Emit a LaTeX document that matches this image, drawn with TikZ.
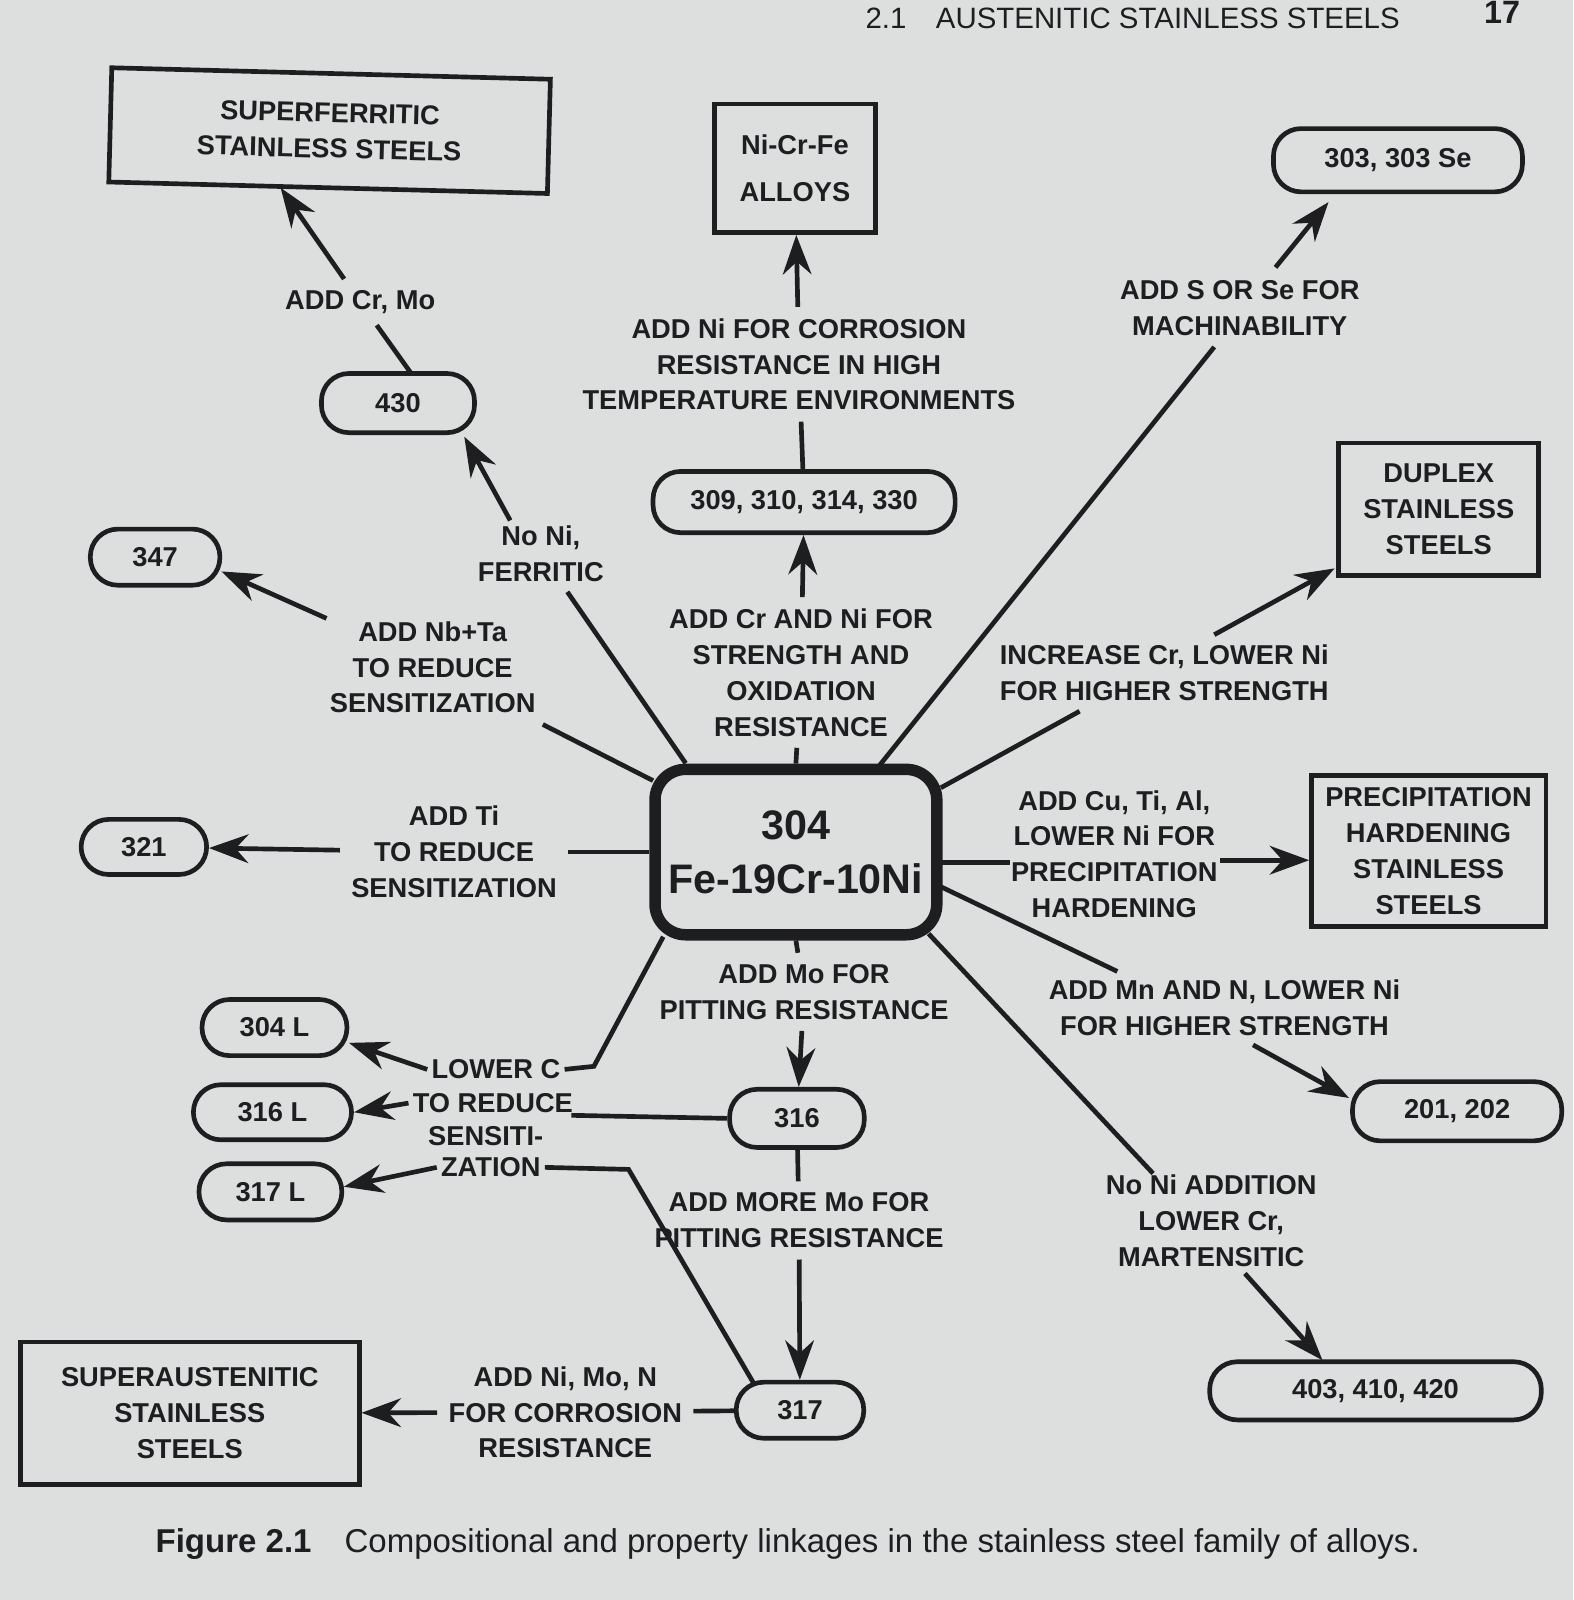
\documentclass[tikz,border=0pt]{standalone}
\usepackage{fontspec}
\setmainfont{Liberation Sans}
\usetikzlibrary{arrows.meta}
\definecolor{bg}{RGB}{221,223,223}
\definecolor{ink}{RGB}{30,30,32}
\tikzset{
  pill/.style 2 args={draw=ink,line width=1.3pt,rounded corners=0.27cm,minimum width=#1*0.01cm,minimum height=#2*0.01cm,inner sep=0pt,font=\bfseries\fontsize{7.6}{9.6}\selectfont,align=center},
  sqbox/.style 2 args={draw=ink,line width=1.3pt,minimum width=#1*0.01cm,minimum height=#2*0.01cm,inner sep=0pt,font=\bfseries\fontsize{7.6}{10}\selectfont,align=center},
  lbl/.style={text=ink,font=\bfseries\fontsize{7.6}{10}\selectfont,align=center,inner sep=3pt},
  ln/.style={draw=ink,line width=1.3pt},
  ar/.style={draw=ink,line width=1.3pt,-{Stealth[length=11pt,width=8pt]}},
}
\begin{document}
\begin{tikzpicture}[x=0.01cm,y=-0.01cm,text=ink]
\fill[bg] (0,0) rectangle (1542,1568);
\useasboundingbox (0,0) rectangle (1542,1568);
\node[font=\fontsize{8.2}{10}\selectfont] (hdr) at (1110,18) {2.1\quad AUSTENITIC STAINLESS STEELS};
\node[font=\bfseries\fontsize{9}{10}\selectfont] (pg) at (1472,12) {17};
\node[font=\fontsize{9.2}{11}\selectfont] (cap) at (772,1513) {\textbf{Figure 2.1}\quad Compositional and property linkages in the stainless steel family of alloys.};

\node[sqbox={430}{112},rotate=-1.5] (sf) at (323,128) {SUPERFERRITIC\\STAINLESS STEELS};
\node[sqbox={158}{126}] (nicr) at (779,165) {Ni-Cr-Fe\\[3pt]ALLOYS};
\node[pill={244}{62}] (s303) at (1370,157) {303, 303 Se};
\node[pill={150}{58}] (s430) at (390,395) {430};
\node[pill={296}{60}] (s309) at (788,492) {309, 310, 314, 330};
\node[sqbox={196}{130}] (dup) at (1410,499) {DUPLEX\\STAINLESS\\STEELS};
\node[pill={127}{55}] (s347) at (152,546) {347};
\node[draw=ink,line width=3.2pt,rounded corners=0.3cm,minimum width=2.76cm,minimum height=1.62cm,align=center,font=\bfseries\fontsize{11.5}{15}\selectfont] (c) at (780,835) {304\\Fe-19Cr-10Ni};
\node[pill={123}{54}] (s321) at (141,830) {321};
\node[sqbox={230}{148}] (ph) at (1400,834) {PRECIPITATION\\HARDENING\\STAINLESS\\STEELS};
\node[pill={142}{55}] (s304l) at (269,1007) {304 L};
\node[pill={155}{54}] (s316l) at (267,1090) {316 L};
\node[pill={140}{55}] (s317l) at (265,1168) {317 L};
\node[pill={132}{57}] (s316) at (781,1096) {316};
\node[pill={205}{58}] (s201) at (1428,1089) {201, 202};
\node[sqbox={332}{140}] (sa) at (186,1385) {SUPERAUSTENITIC\\STAINLESS\\STEELS};
\node[pill={125}{55}] (s317) at (784,1382) {317};
\node[pill={325}{57}] (s403) at (1348,1363) {403, 410, 420};

\node[lbl] (l1) at (353,296) {ADD Cr, Mo};
\node[lbl] (l2) at (783,357) {ADD Ni FOR CORROSION\\RESISTANCE IN HIGH\\TEMPERATURE ENVIRONMENTS};
\node[lbl] (l3) at (1215,302) {ADD S OR Se FOR\\MACHINABILITY};
\node[lbl] (l4) at (530,543) {No Ni,\\FERRITIC};
\node[lbl] (l5) at (424,654) {ADD Nb+Ta\\TO REDUCE\\SENSITIZATION};
\node[lbl] (l6) at (785,659) {ADD Cr AND Ni FOR\\STRENGTH AND\\OXIDATION\\RESISTANCE};
\node[lbl] (l7) at (1141,659) {INCREASE Cr, LOWER Ni\\FOR HIGHER STRENGTH};
\node[lbl] (l8) at (445,835) {ADD Ti\\TO REDUCE\\SENSITIZATION};
\node[lbl] (l9) at (1092,837) {ADD Cu, Ti, Al,\\LOWER Ni FOR\\PRECIPITATION\\HARDENING};
\node[lbl] (l10) at (788,972) {ADD Mo FOR\\PITTING RESISTANCE};
\node[lbl] (l11) at (1200,988) {ADD Mn AND N, LOWER Ni\\FOR HIGHER STRENGTH};
\node[lbl,inner sep=1pt] (lc1) at (486,1048) {LOWER C};
\node[lbl,inner sep=1pt] (lc2) at (483,1081) {TO REDUCE};
\node[lbl,inner sep=1pt] (lc3) at (476,1113) {SENSITI-};
\node[lbl,inner sep=1pt] (lc4) at (481,1144) {ZATION};
\node[lbl] (l12) at (783,1196) {ADD MORE Mo FOR\\PITTING RESISTANCE};
\node[lbl] (l13) at (1187,1196) {No Ni ADDITION\\LOWER Cr,\\MARTENSITIC};
\node[lbl] (l14) at (554,1384) {ADD Ni, Mo, N\\FOR CORROSION\\RESISTANCE};

\coordinate (a1) at (403,366);   \coordinate (a2) at (275,184);
\coordinate (b1) at (862,750);   \coordinate (b2) at (1190,340);
\coordinate (b3) at (1250,262);  \coordinate (b4) at (1302,198);
\coordinate (c1) at (672,748);   \coordinate (c2) at (556,580);
\coordinate (c3) at (500,510);   \coordinate (c4) at (455,428);
\coordinate (d1) at (640,765);   \coordinate (d2) at (532,710);
\coordinate (d3) at (320,606);   \coordinate (d4) at (217,560);
\coordinate (e1) at (922,772);   \coordinate (e2) at (1058,697);
\coordinate (e3) at (1190,622);  \coordinate (e4) at (1308,557);
\coordinate (f1) at (922,845);   \coordinate (f2) at (990,845);
\coordinate (f3) at (1196,843);  \coordinate (f4) at (1283,843);
\coordinate (g1) at (920,868);   \coordinate (g2) at (1095,952);
\coordinate (g3) at (1228,1024); \coordinate (g4) at (1322,1076);
\coordinate (h1) at (910,915);   \coordinate (h2) at (1130,1150);
\coordinate (h3) at (1220,1248); \coordinate (h4) at (1296,1333);
\coordinate (k0) at (650,918);   \coordinate (k1) at (582,1045);
\coordinate (k2) at (616,1146);  \coordinate (k3) at (740,1358);
\coordinate (m1) at (342,1022);  \coordinate (m2) at (347,1090);
\coordinate (m3) at (337,1163);  \coordinate (m4) at (560,1093);

\draw[ln] (a1) -- (l1);
\draw[ar] (l1) -- (a2);
\draw[ln] (s309) -- (l2);
\draw[ar] (l2) -- (nicr);
\draw[ln] (b1) -- (b2);
\draw[ar] (b3) -- (b4);
\draw[ln] (c1) -- (c2);
\draw[ar] (c3) -- (c4);
\draw[ln] (d1) -- (d2);
\draw[ar] (d3) -- (d4);
\draw[ln] (c.north) -- (l6);
\draw[ar] (l6) -- (s309);
\draw[ln] (e1) -- (e2);
\draw[ar] (e3) -- (e4);
\draw[ln] (c.west) -- (l8);
\draw[ar] (l8) -- (s321);
\draw[ln] (f1) -- (f2);
\draw[ar] (f3) -- (f4);
\draw[ln] (c.south) -- (l10);
\draw[ar] (l10) -- (s316);
\draw[ln] (g1) -- (g2);
\draw[ar] (g3) -- (g4);
\draw[ln] (h1) -- (h2);
\draw[ar] (h3) -- (h4);
\draw[ln] (k0) -- (k1) -- (lc1.east);
\draw[ar] (lc1.west) -- (m1);
\draw[ar] (lc2.west) -- (m2);
\draw[ar] (lc4.west) -- (m3);
\draw[ln] (s316.west) -- (m4);
\draw[ln] (k3) -- (k2) -- (lc4.east);
\draw[ln] (s316) -- (l12);
\draw[ar] (l12) -- (s317);
\draw[ln] (s317) -- (l14);
\draw[ar] (l14) -- (sa);
\end{tikzpicture}
\end{document}
